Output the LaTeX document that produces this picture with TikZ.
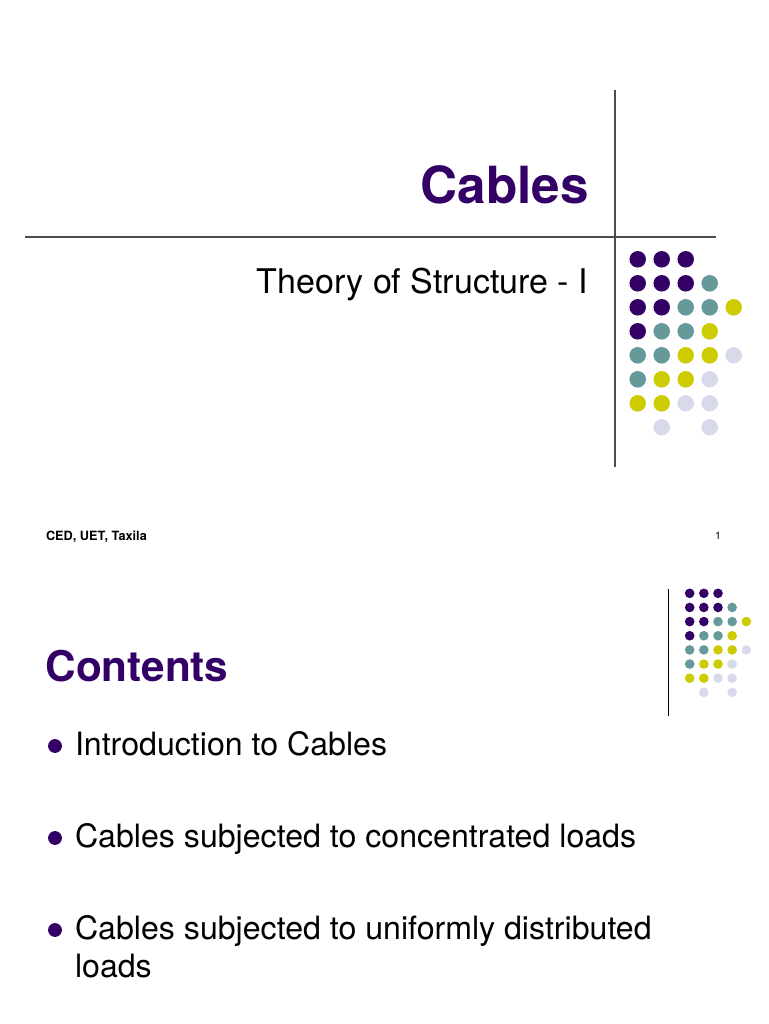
\documentclass[tikz,border=0pt]{standalone}
\usepackage{fontspec}
\setmainfont{TeX Gyre Heros}

\definecolor{slidepurple}{HTML}{330066}
\definecolor{slideteal}{HTML}{669999}
\definecolor{slideyellow}{HTML}{CCCC00}
\definecolor{slidelilac}{HTML}{D9D9EC}

% one block of dots: x of first column, y of first row, pitch, radius
\newcommand{\dotblock}[4]{
    \foreach \c/\r in {0/0,1/0,2/0,0/1,1/1,2/1,0/2,1/2,0/3}
        \fill[slidepurple] (#1+\c*#3,#2+\r*#3) circle (#4);
    \foreach \c/\r in {3/1,2/2,3/2,1/3,2/3,0/4,1/4,0/5}
        \fill[slideteal] (#1+\c*#3,#2+\r*#3) circle (#4);
    \foreach \c/\r in {4/2,3/3,2/4,3/4,1/5,2/5,0/6,1/6}
        \fill[slideyellow] (#1+\c*#3,#2+\r*#3) circle (#4);
    \foreach \c/\r in {4/4,3/5,2/6,3/6,1/7,3/7}
        \fill[slidelilac] (#1+\c*#3,#2+\r*#3) circle (#4);
}

\tikzset{
    slidetext/.style={inner sep=0pt, outer sep=0pt, text=black},
    slideline/.style={line width=0.9pt, draw=black!70},
    slidehead/.style={slidetext, text=slidepurple, font=\bfseries},
    bulletitem/.style={slidetext, anchor=base west, font=\fontsize{24.1pt}{28pt}\selectfont},
}

\begin{document}
\begin{tikzpicture}[x=0.75pt, y=-0.75pt]
    \useasboundingbox (0,0) rectangle (768,1024);

    % First slide
    \draw[slideline] (615,90) -- (615,467);
    \draw[slideline] (25,237) -- (716,237);
    \dotblock{637.7}{259.3}{24}{6.2pt}

    \node[slidehead, anchor=base east, font=\bfseries\fontsize{38.4pt}{44pt}\selectfont] (title) at (588.5,203) {Cables};
    \node[slidetext, anchor=base east, font=\fontsize{25.5pt}{30pt}\selectfont] (subtitle) at (588,293) {Theory of Structure - I};

    % Footer
    \node[slidetext, anchor=base west, font=\bfseries\fontsize{9.55pt}{10pt}\selectfont] (footer) at (46,540) {CED, UET, Taxila};
    \node[slidetext, anchor=base, font=\fontsize{8pt}{10pt}\selectfont] (pagenum) at (718,539) {1};

    % Second slide
    \draw[line width=0.9pt] (668.5,589) -- (668.5,716);
    \dotblock{689.7}{593.3}{14.15}{3.6pt}

    \node[slidehead, anchor=base west, font=\bfseries\fontsize{31.7pt}{36pt}\selectfont] (contents) at (45.5,681) {Contents};

    % Bullets
    \foreach \y in {746,838,930}
        \fill[slidepurple] (55,\y) circle (5.2pt);

    \node[bulletitem] (itemone) at (75,755) {Introduction to Cables};
    \node[bulletitem] (itemtwo) at (75,847) {Cables subjected to concentrated loads};
    \node[bulletitem] (itemthree) at (75,939) {Cables subjected to uniformly distributed};
    \node[bulletitem] (itemfour) at (75,977) {loads};
\end{tikzpicture}
\end{document}
